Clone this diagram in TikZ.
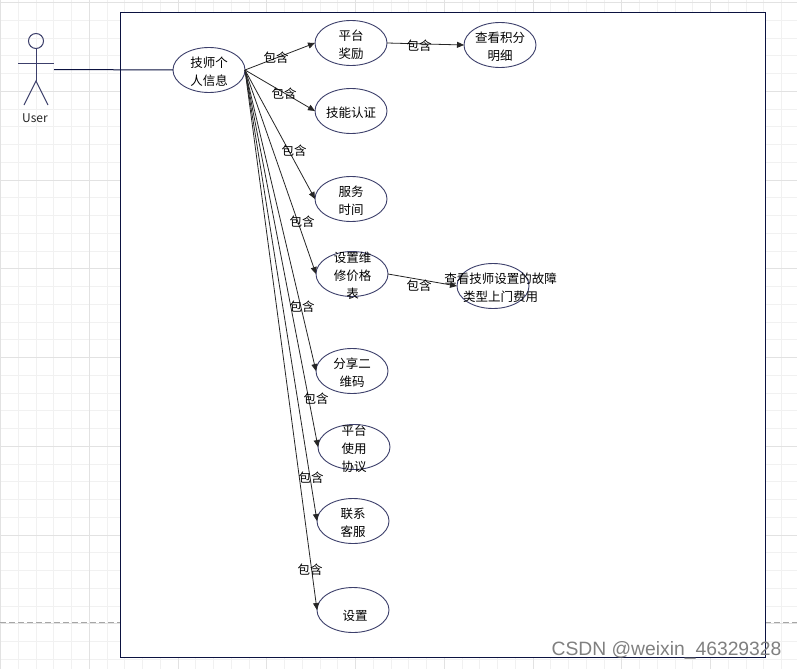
\documentclass[tikz,border=0pt]{standalone}
\usepackage{fontspec}
\setmainfont{Noto Sans CJK SC}
\newfontfamily\wmfont{Liberation Sans}
\usetikzlibrary{arrows.meta,shapes.geometric}
\definecolor{navy}{HTML}{0B1240}
\definecolor{ell}{HTML}{3C3F6B}
\definecolor{gridminor}{HTML}{F1F1F1}
\definecolor{gridmajor}{HTML}{E2E2E2}
\newcommand{\uctext}[1]{\smash{\raisebox{-6pt}{\makebox[0pt]{\smash{\begin{tabular}[c]{@{}c@{}}#1\end{tabular}}}}}}
\tikzset{
  usecase/.style={ellipse,draw=ell,line width=0.9pt,fill=white,minimum width=72pt,minimum height=45pt,inner sep=0pt,outer sep=0pt,font=\fontsize{12.5}{18}\selectfont},
  inc/.style={-{Triangle[length=7pt,width=6pt]},line width=0.8pt,draw=black!85},
  lab/.style={inner sep=0.5pt,font=\fontsize{12.5}{14}\selectfont,text=black},
  limb/.style={draw=ell,line width=1pt},
}
\begin{document}
\begin{tikzpicture}[x=1pt,y=-1pt]
\useasboundingbox (0,0) rectangle (797,669);
\fill[white] (0,0) rectangle (797,669);
\foreach \k in {0,...,45}{\draw[gridminor,line width=0.8pt] ({0.5+17.75*\k},0) -- ({0.5+17.75*\k},669);}
\foreach \k in {0,...,37}{\draw[gridminor,line width=0.8pt] (0,{2.5+17.75*\k}) -- (797,{2.5+17.75*\k});}
\foreach \k in {0,...,8}{\draw[gridmajor,line width=0.9pt] ({0.5+88.75*\k},0) -- ({0.5+88.75*\k},669);}
\foreach \k in {0,...,7}{\draw[gridmajor,line width=0.9pt] (0,{2.5+88.75*\k}) -- (797,{2.5+88.75*\k});}
\draw[black!35,dash pattern=on 6pt off 3pt,line width=0.8pt] (0,622) -- (797,622);
\node[draw=navy,fill=white,line width=1pt,minimum width=645pt,minimum height=645pt,inner sep=0pt,outer sep=0pt,anchor=north west] (sys) at (120.5,12.5) {};
% actor
\node[circle,draw=ell,line width=1pt,minimum size=15pt,inner sep=0pt,outer sep=0pt] (head) at (36,41) {};
\coordinate (hip) at (36,81);
\coordinate (armL) at (18,63.5);
\coordinate (armR) at (54,63.5);
\coordinate (legL) at (24,105);
\coordinate (legR) at (48,105);
\draw[limb] (head.south) -- (hip);
\draw[limb] (armL) -- (armR);
\draw[limb] (legL) -- (hip) -- (legR);
\node[font=\fontsize{12}{14}\selectfont,text=black!85] (user) at (35,118) {User};
\coordinate (actorR) at (54,69.5);
% use cases
\node[usecase] (tech) at (209,70) {\uctext{技师个\\人信息}};
\node[usecase] (award) at (351,43) {\uctext{平台\\奖励}};
\node[usecase] (cert) at (351,111) {\uctext{技能认证}};
\node[usecase] (time) at (351,199) {\uctext{服务\\时间}};
\node[usecase] (price) at (352,274) {\hspace{1pt}\uctext{设置维\\修价格\\表}};
\node[usecase] (points) at (500,45) {\uctext{查看积分\\明细}};
\node[usecase] (fee) at (493,286) {\hspace{15pt}\uctext{查看技师设置的故障\\类型上门费用}};
\node[usecase] (qr) at (352,371) {\uctext{分享二\\维码}};
\node[usecase] (terms) at (354,447) {\uctext{平台\\使用\\协议}};
\node[usecase] (service) at (353,521) {\uctext{联系\\客服}};
\node[usecase] (settings) at (353,610) {\hspace{4pt}\smash{\raisebox{-3.5pt}{\uctext{设置}}}};
% connectors
\draw[navy,line width=1pt] (actorR) -- (tech.west);
\foreach \t in {award,cert,time,price,qr,terms,service,settings}{\draw[inc] (tech.east) -- (\t.west);}
\draw[inc] (award.east) -- (points.west);
\draw[inc] (price.east) -- (fee.west);
% labels
\node[lab] (l1) at (276,57.5) {包含};
\node[lab] (l2) at (284,93.5) {包含};
\node[lab] (l3) at (294,150.5) {包含};
\node[lab] (l4) at (302,221.5) {包含};
\node[lab] (l5) at (302,306.5) {包含};
\node[lab] (l6) at (316,398.5) {包含};
\node[lab] (l7) at (311,477.5) {包含};
\node[lab] (l8) at (310,569.5) {包含};
\node[lab] (l9) at (419,46) {包含};
\node[lab] (l10) at (419,285.5) {包含};
\node[font=\wmfont\fontsize{19.3}{22}\selectfont,text=black!50,anchor=east] (wm) at (785,650) {CSDN @weixin\_46329328};
\end{tikzpicture}
\end{document}
